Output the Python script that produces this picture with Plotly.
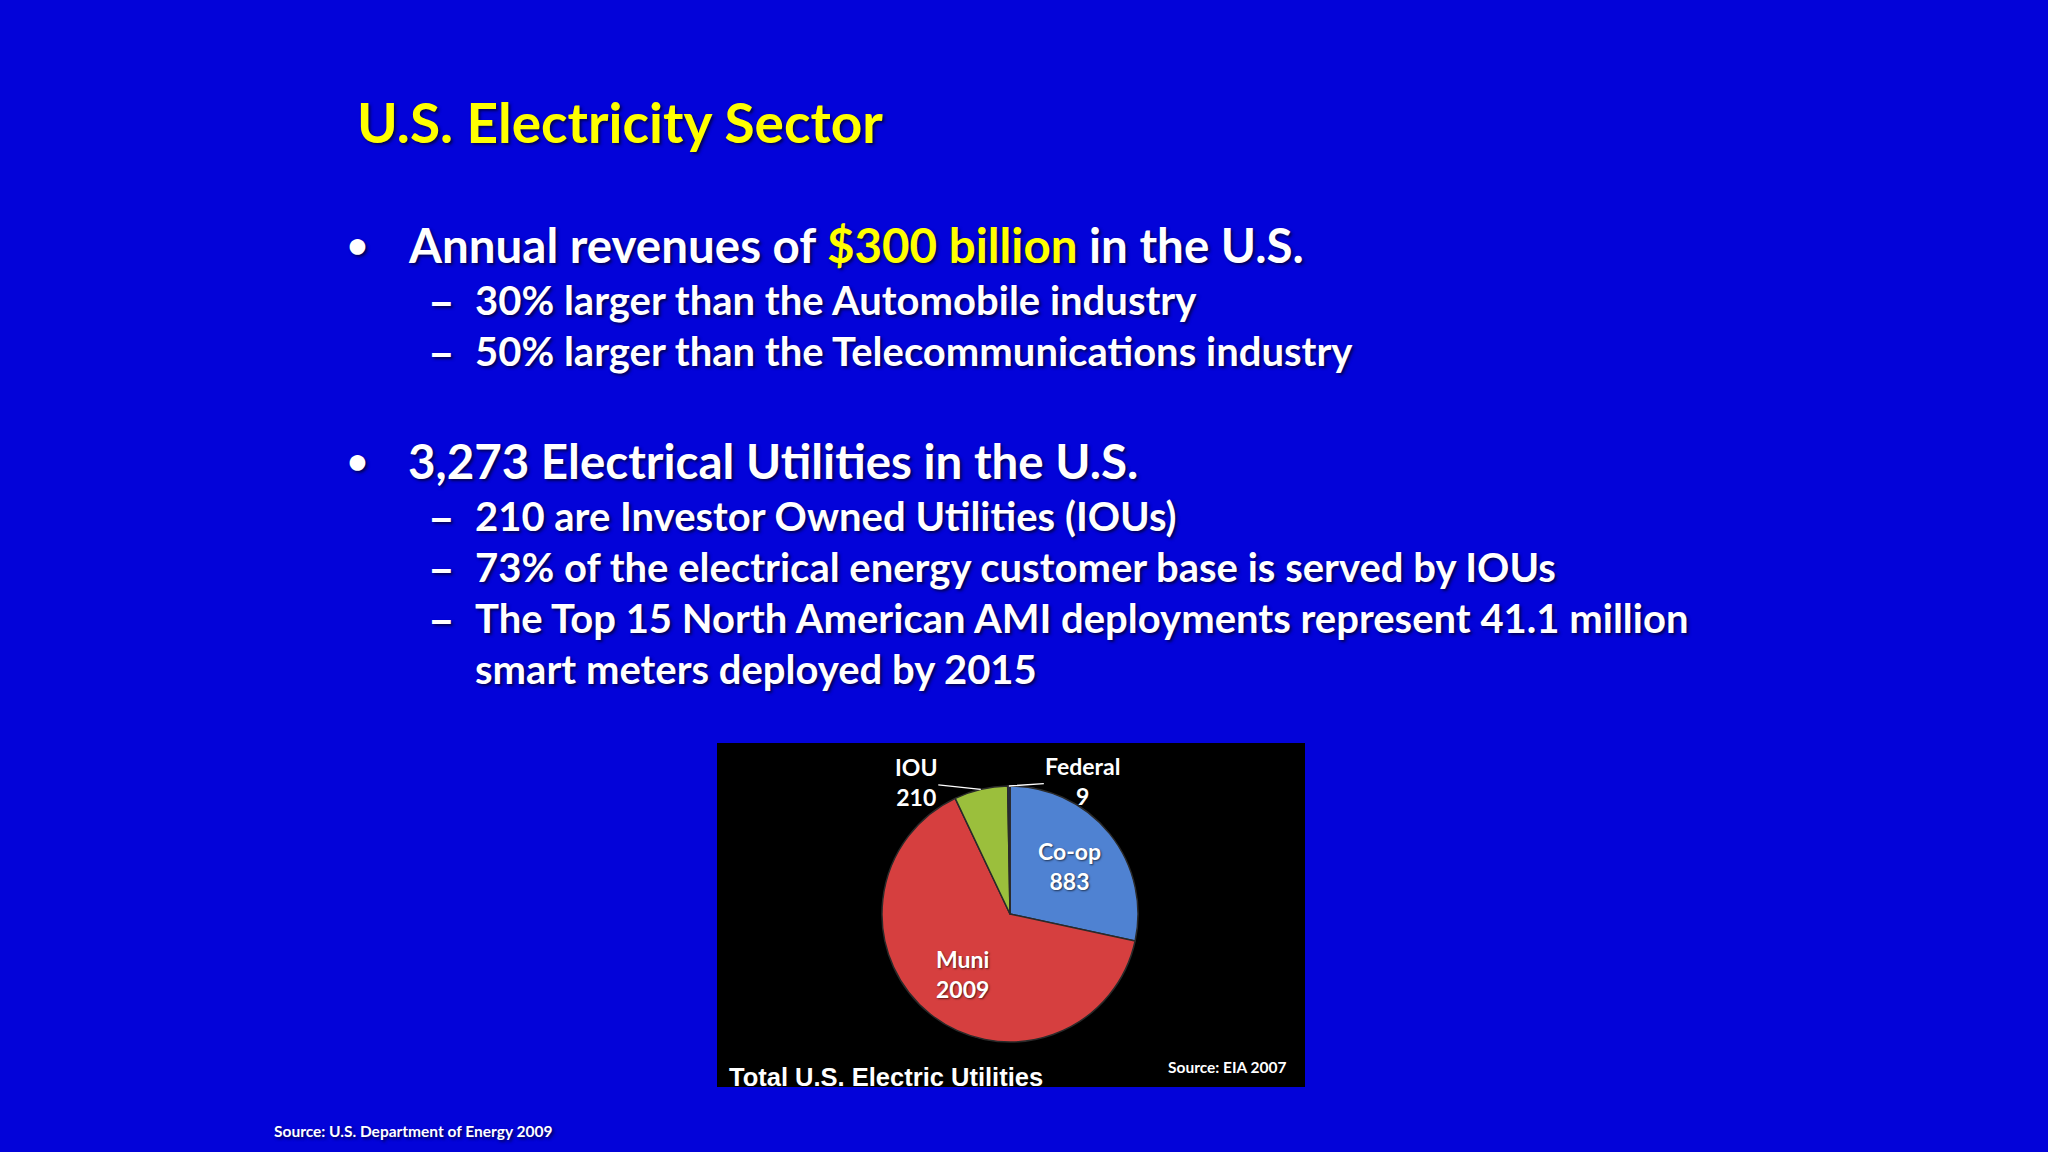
import math
import plotly.graph_objects as go

W, H = 2048, 1152

# ---- data ----
slice_labels = ["Co-op", "Muni", "IOU", "Federal"]
slice_values = [883, 2009, 210, 9]
slice_colors = ["#4f82d2", "#d63f3f", "#9bbf3c", "#1f2f66"]

title_text = "U.S. Electricity Sector"
bullets = [
    ("Annual revenues of <span style='color:#ffff00'>$300 billion</span> in the U.S.",
     ["30% larger than the Automobile industry",
      "50% larger than the Telecommunications industry"]),
    ("3,273 Electrical Utilities in the U.S.",
     ["210 are Investor Owned Utilities (IOUs)",
      "73% of the electrical energy customer base is served by IOUs",
      "The Top 15 North American AMI deployments represent 41.1 million<br>smart meters deployed by 2015"]),
]
chart_title = "Total U.S. Electric Utilities"
chart_source = "Source: EIA 2007"
footer = "Source: U.S. Department of Energy 2009"

# ---- layout helpers ----
BG = "#0303d9"
FONT = "Lato"
SHADOW = "2px 2px 3px rgba(0,0,0,0.6)"


def px(x):
    return x / W


def py(y):
    return 1 - y / H


annotations = []


def txt(x, y, text, size, color="white", xanchor="left", yanchor="middle",
        family=FONT, shadow=SHADOW, align="left"):
    annotations.append(dict(
        x=px(x), y=py(y), xref="paper", yref="paper", text=text,
        showarrow=False, xanchor=xanchor, yanchor=yanchor, align=align,
        font=dict(family=family, size=size, color=color, weight="bold", shadow=shadow),
    ))


# title
txt(355, 122, title_text, 55, color="#ffff00")

# bullets
main_y = [244, 460]
sub_y = [[300, 351], [516, 567, 618]]
for (main, subs), my, sys_ in zip(bullets, main_y, sub_y):
    txt(357, my, "•", 36, xanchor="center")
    txt(406, my, main, 47.5)
    for s, yy in zip(subs, sys_):
        txt(426, yy, "–", 46)
        if "<br>" in s:
            for k, part in enumerate(s.split("<br>")):
                txt(473, yy + 51 * k, part, 40)
        else:
            txt(473, yy, s, 40)

# footer
txt(272, 1131, footer, 15.5)

# ---- pie box ----
box = (717, 743, 1305, 1087)
cx, cy, R = 1010, 914, 128

shapes = [dict(type="rect", xref="paper", yref="paper",
               x0=px(box[0]), x1=px(box[2]), y0=py(box[3]), y1=py(box[1]),
               fillcolor="black", line=dict(width=0), layer="below")]

pie = go.Pie(
    labels=slice_labels, values=slice_values, sort=False, direction="clockwise",
    rotation=0, marker=dict(colors=slice_colors, line=dict(color="#2a2a2a", width=1.5)),
    textinfo="none",
    hoverinfo="label+value", showlegend=False,
    domain=dict(x=[px(cx - R), px(cx + R)], y=[py(cy + R), py(cy - R)]),
)

# slice labels placed at each slice's mid angle
total = sum(slice_values)
cum = 0
label_offsets = {"IOU": (-65, 1), "Federal": (74, 3)}
for lab, val in zip(slice_labels, slice_values):
    mid = (cum + val / 2) / total * 2 * math.pi
    cum += val
    if lab in label_offsets:
        ex = cx + R * math.sin(mid)
        ey = cy - R * math.cos(mid)
        dx, dy = label_offsets[lab]
        annotations.append(dict(
            x=px(ex), y=py(ey), xref="paper", yref="paper",
            text=f"{lab}<br>{val}", showarrow=True, arrowhead=0, arrowwidth=1.3,
            arrowcolor="white", ax=dx, ay=dy - 8, axref="pixel", ayref="pixel",
            font=dict(family=FONT, size=23, color="white", weight="bold"),
            align="center",
        ))
    else:
        lx = cx + 0.6 * R * math.sin(mid)
        ly = cy - 0.6 * R * math.cos(mid)
        txt(lx, ly, f"{lab}<br>{val}", 23, xanchor="center", align="center",
            shadow="1px 1px 2px rgba(0,0,0,0.6)")

txt(727, 1077, chart_title, 25.5, family="Liberation Sans, Arial", shadow="none")
txt(1289, 1067, chart_source, 15.5, xanchor="right", shadow="none")

fig = go.Figure(pie)
fig.update_layout(
    width=W, height=H, margin=dict(l=0, r=0, t=0, b=0),
    paper_bgcolor=BG, plot_bgcolor=BG,
    shapes=shapes, annotations=annotations,
)
fig.write_html("out.html", config={"displayModeBar": False},
               post_script="document.body.style.margin='0px';")
